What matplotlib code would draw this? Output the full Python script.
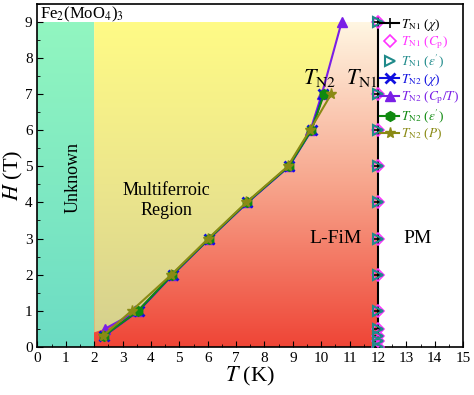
import numpy as np
import matplotlib.pyplot as plt
from matplotlib.colors import LinearSegmentedColormap
from matplotlib.patches import Polygon
from matplotlib.ticker import MultipleLocator

plt.rcParams['font.family'] = 'Liberation Serif'
plt.rcParams['mathtext.fontset'] = 'stix'

# T_N1 points (all at 12 K)
h_n1 = [0, 0.15, 0.3, 0.5, 1, 2, 3, 4, 5, 6, 7, 9]
t_n1 = [12.0] * len(h_n1)

# T_N2 series
h_chi = [0.3, 1, 2, 3, 4, 5, 6, 7]
t_chi = [2.35, 3.57, 4.77, 6.06, 7.4, 8.87, 9.66, 10.07]
h_cp = [0.5, 1, 2, 3, 4, 5, 6, 7, 9]
t_cp = [2.38, 3.55, 4.75, 6.05, 7.4, 8.85, 9.62, 10.02, 10.72]
h_eps = [0.3, 1, 2, 3, 4, 5, 6, 7]
t_eps = [2.33, 3.55, 4.75, 6.05, 7.38, 8.85, 9.65, 10.1]
h_p = [0.3, 1, 2, 3, 4, 5, 6, 7]
t_p = [2.3, 3.32, 4.72, 6.02, 7.36, 8.82, 9.6, 10.35]

fig = plt.figure(figsize=(4.74, 3.95), dpi=100)
ax = fig.add_axes([0.079, 0.122, 0.898, 0.868])
ax.set_xlim(0, 15)
ax.set_ylim(0, 9.5)

grad = np.linspace(0, 1, 256).reshape(-1, 1)

# Unknown region
cm_unk = LinearSegmentedColormap.from_list('unk', ['#6cdcc4', '#92f6c0'])
ax.imshow(grad, extent=[0, 2, 0, 9], origin='lower', cmap=cm_unk,
          aspect='auto', zorder=0)

# L-FiM region (red -> cream)
cm_fim = LinearSegmentedColormap.from_list('fim', ['#ef4536', '#f7a58c', '#fff6e2'])
ax.imshow(grad, extent=[2, 12, 0, 9], origin='lower', cmap=cm_fim,
          aspect='auto', zorder=0)

# Multiferroic region (khaki -> yellow), clipped by T_N2 boundary
cm_mf = LinearSegmentedColormap.from_list('mf', ['#d4cf8e', '#ece68c', '#fffb86'])
im = ax.imshow(grad, extent=[2, 12, 0, 9], origin='lower', cmap=cm_mf,
               aspect='auto', zorder=0.5)
poly_pts = [(2, 9), (t_cp[-1], 9)] + list(zip(t_cp[::-1], h_cp[::-1])) + [(2, 0.4)]
clip = Polygon(poly_pts, closed=True, transform=ax.transData, facecolor='none', edgecolor='none')
ax.add_patch(clip)
im.set_clip_path(clip)

# T_N1 series
ax.plot(t_n1, h_n1, color='black', marker='+', ms=7, mew=1.2, lw=1.5, zorder=3,
        label=r'$T_{\rm N1}$ ($\chi$)')
ax.plot(t_n1, h_n1, ls='none', marker='D', ms=6, mfc='none', mec='#ff33ff', mew=1.2, zorder=3,
        label=r'$T_{\rm N1}$ ($C_{\rm p}$)')
ax.plot(t_n1, h_n1, ls='none', marker='>', ms=7, mfc='none', mec='#1f8a8a', mew=1.5, zorder=3,
        label=r"$T_{\rm N1}$ ($\varepsilon'$)")

# T_N2 series
ax.plot(t_chi, h_chi, color='#1010e0', marker='x', ms=7, mew=2, lw=1.5, zorder=4,
        label=r'$T_{\rm N2}$ ($\chi$)')
ax.plot(t_cp, h_cp, color='#7a1fe6', marker='^', ms=7, lw=1.5, zorder=3,
        label=r'$T_{\rm N2}$ ($C_{\rm p}/T$)')
ax.plot(t_eps, h_eps, color='#108a10', marker='h', ms=7, lw=1.5, zorder=5,
        label=r"$T_{\rm N2}$ ($\varepsilon'$)")
ax.plot(t_p, h_p, color='#8a8a14', marker='*', ms=8, lw=1.5, zorder=6,
        label=r'$T_{\rm N2}$ ($P$)')

leg = ax.legend(loc='upper right', bbox_to_anchor=(1.01, 0.985), frameon=False,
                fontsize=9.5, handlelength=1.4, handletextpad=0.2, labelspacing=0.12,
                borderaxespad=0.2)
for txt, c in zip(leg.get_texts(), ['black', '#ff33ff', '#1f8a8a', '#1010e0',
                                     '#7a1fe6', '#108a10', '#8a8a14']):
    txt.set_color(c)

# region labels
ax.text(1.25, 4.7, 'Unknown', rotation=90, ha='center', va='center', fontsize=13)
ax.text(4.55, 4.05, 'Multiferroic\nRegion', ha='center', va='center', fontsize=13,
        linespacing=1.2)
ax.text(10.5, 3.0, 'L-FiM', ha='center', va='center', fontsize=14)
ax.text(13.4, 3.0, 'PM', ha='center', va='center', fontsize=14)
ax.text(9.95, 7.45, r'$T_{\rm N2}$', ha='center', va='center', fontsize=16)
ax.text(11.45, 7.45, r'$T_{\rm N1}$', ha='center', va='center', fontsize=16)
ax.text(0.1, 9.2, r'Fe$_2$(MoO$_4$)$_3$', ha='left', va='center', fontsize=12)

ax.xaxis.set_major_locator(MultipleLocator(1))
ax.xaxis.set_minor_locator(MultipleLocator(0.5))
ax.yaxis.set_major_locator(MultipleLocator(1))
ax.yaxis.set_minor_locator(MultipleLocator(0.5))
ax.tick_params(which='both', direction='in', labelsize=11)
ax.tick_params(which='major', length=4)
ax.tick_params(which='minor', length=2)
ax.set_yticks(range(0, 10))
ax.set_xlabel(r'$T$ (K)', fontsize=16, labelpad=0)
ax.set_ylabel(r'$H$ (T)', fontsize=16, labelpad=0)
for s in ax.spines.values():
    s.set_linewidth(1.2)

fig.savefig('out.png', dpi=100)
